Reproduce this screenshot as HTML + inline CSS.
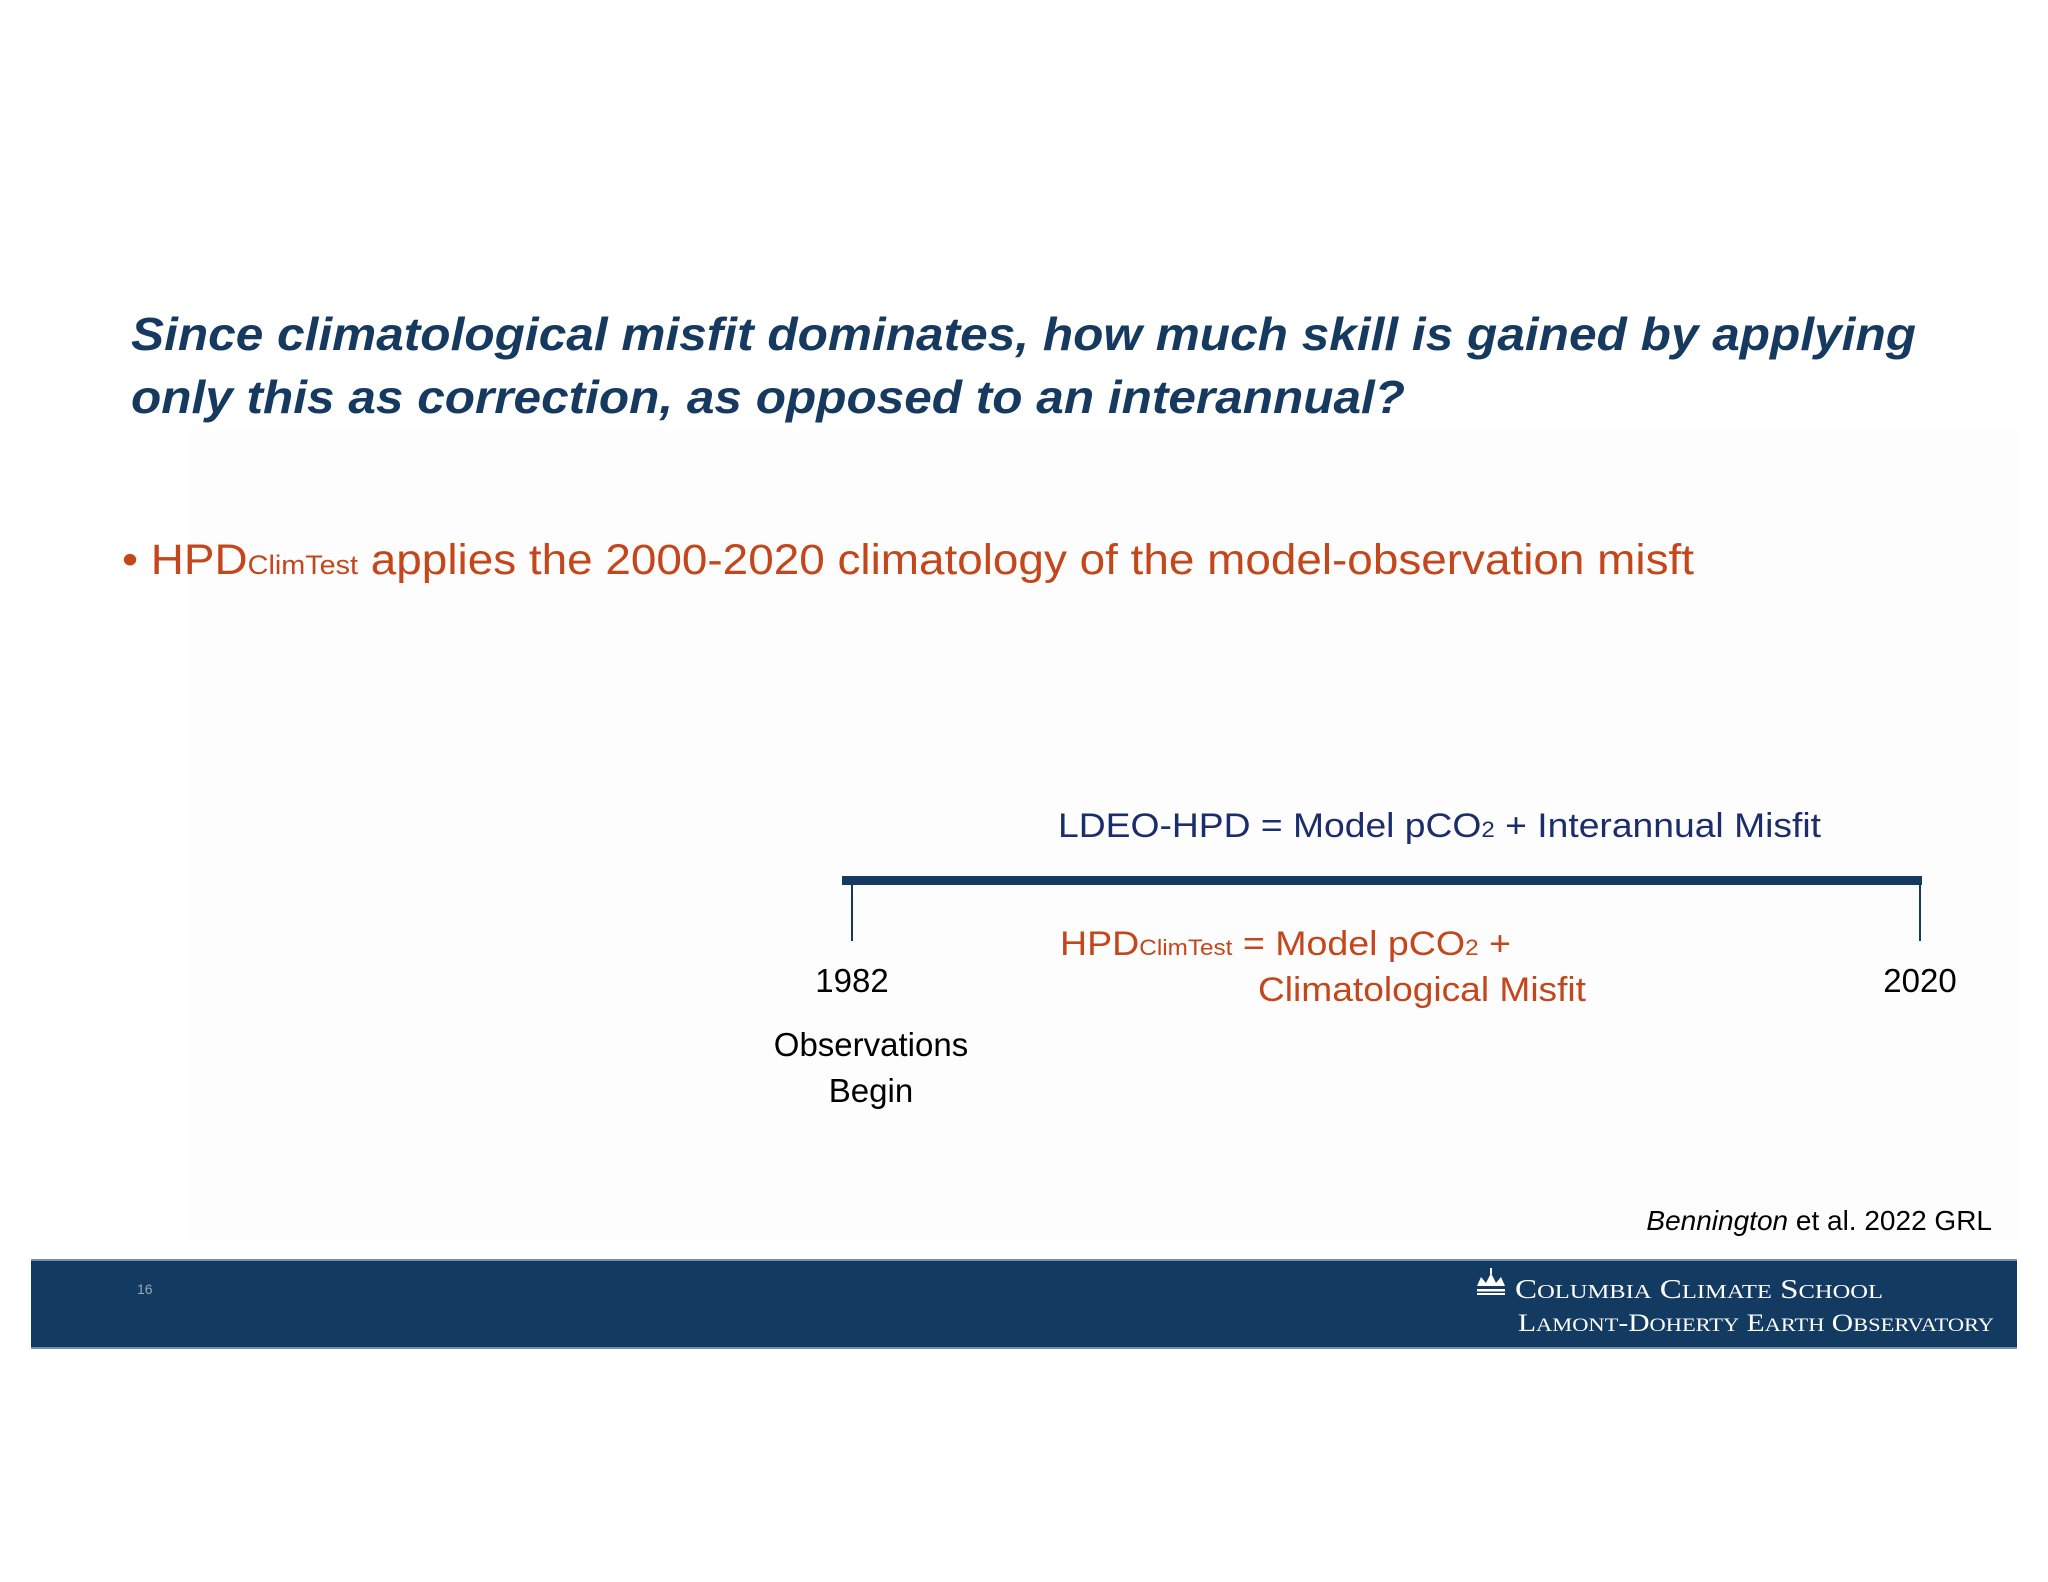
<!DOCTYPE html>
<html><head><meta charset="utf-8"><style>
html,body{margin:0;padding:0;background:#fff;}
svg{display:block;}
</style></head><body>
<svg width="2048" height="1582" viewBox="0 0 2048 1582" xmlns="http://www.w3.org/2000/svg">
<rect x="0" y="0" width="2048" height="1582" fill="#ffffff"/>
<rect x="190" y="430" width="1830" height="810" fill="#fdfdfd"/>
<g font-family="Liberation Sans, sans-serif" font-weight="bold" font-style="italic" fill="#163a5f" font-size="46">
<text x="131" y="350" textLength="1785" lengthAdjust="spacingAndGlyphs">Since climatological misfit dominates, how much skill is gained by applying</text>
<text x="131" y="413" textLength="1274" lengthAdjust="spacingAndGlyphs">only this as correction, as opposed to an interannual?</text>
</g>
<text x="122" y="574" font-family="Liberation Sans, sans-serif" font-size="43" fill="#c4461b" textLength="1572" lengthAdjust="spacingAndGlyphs">• HPD<tspan font-size="27">ClimTest</tspan> applies the 2000-2020 climatology of the model-observation misft</text>
<text x="1058" y="837" font-family="Liberation Sans, sans-serif" font-size="34" fill="#1c2d6b" textLength="763" lengthAdjust="spacingAndGlyphs">LDEO-HPD = Model pCO<tspan font-size="22">2</tspan> + Interannual Misfit</text>
<rect x="842" y="876" width="1080" height="9" fill="#163a5f"/>
<rect x="851" y="880" width="2" height="61" fill="#163a5f"/>
<rect x="1919" y="880" width="2" height="61" fill="#163a5f"/>
<text x="1060" y="955" font-family="Liberation Sans, sans-serif" font-size="34" fill="#c4461b" textLength="451" lengthAdjust="spacingAndGlyphs">HPD<tspan font-size="22">ClimTest</tspan> = Model pCO<tspan font-size="22">2</tspan> +</text>
<text x="1258" y="1001" font-family="Liberation Sans, sans-serif" font-size="34" fill="#c4461b" textLength="328" lengthAdjust="spacingAndGlyphs">Climatological Misfit</text>
<g font-family="Liberation Sans, sans-serif" font-size="33" fill="#000" text-anchor="middle">
<text x="852" y="992">1982</text>
<text x="1920" y="992">2020</text>
<text x="871" y="1056">Observations</text>
<text x="871" y="1102">Begin</text>
</g>
<text x="1992" y="1230" font-family="Liberation Sans, sans-serif" font-size="28" fill="#000" text-anchor="end"><tspan font-style="italic">Bennington</tspan> et al. 2022 GRL</text>
<rect x="31" y="1259" width="1986" height="90" fill="#133a60"/>
<rect x="31" y="1259" width="1986" height="2" fill="#6f8fb0"/>
<rect x="31" y="1347" width="1986" height="2" fill="#6f8fb0"/>
<text x="137" y="1294" font-family="Liberation Sans, sans-serif" font-size="14" fill="#9aa8b8">16</text>
<g fill="#ffffff">
<path d="M1477 1286 l4 -9 l5 6 l5 -10 l5 10 l5 -6 l4 9 z"/>
<rect x="1477" y="1289" width="28" height="2.5"/>
<rect x="1477" y="1293" width="28" height="2"/>
<rect x="1490" y="1268" width="2" height="6"/>
</g>
<text x="1515" y="1298" font-family="Liberation Serif, serif" font-size="27" fill="#ffffff" textLength="368" lengthAdjust="spacingAndGlyphs">C<tspan font-size="20">OLUMBIA</tspan> C<tspan font-size="20">LIMATE</tspan> S<tspan font-size="20">CHOOL</tspan></text>
<text x="1518" y="1331" font-family="Liberation Serif, serif" font-size="25" fill="#ffffff" textLength="476" lengthAdjust="spacingAndGlyphs">L<tspan font-size="19">AMONT</tspan>-D<tspan font-size="19">OHERTY</tspan> E<tspan font-size="19">ARTH</tspan> O<tspan font-size="19">BSERVATORY</tspan></text>
</svg>
</body></html>
